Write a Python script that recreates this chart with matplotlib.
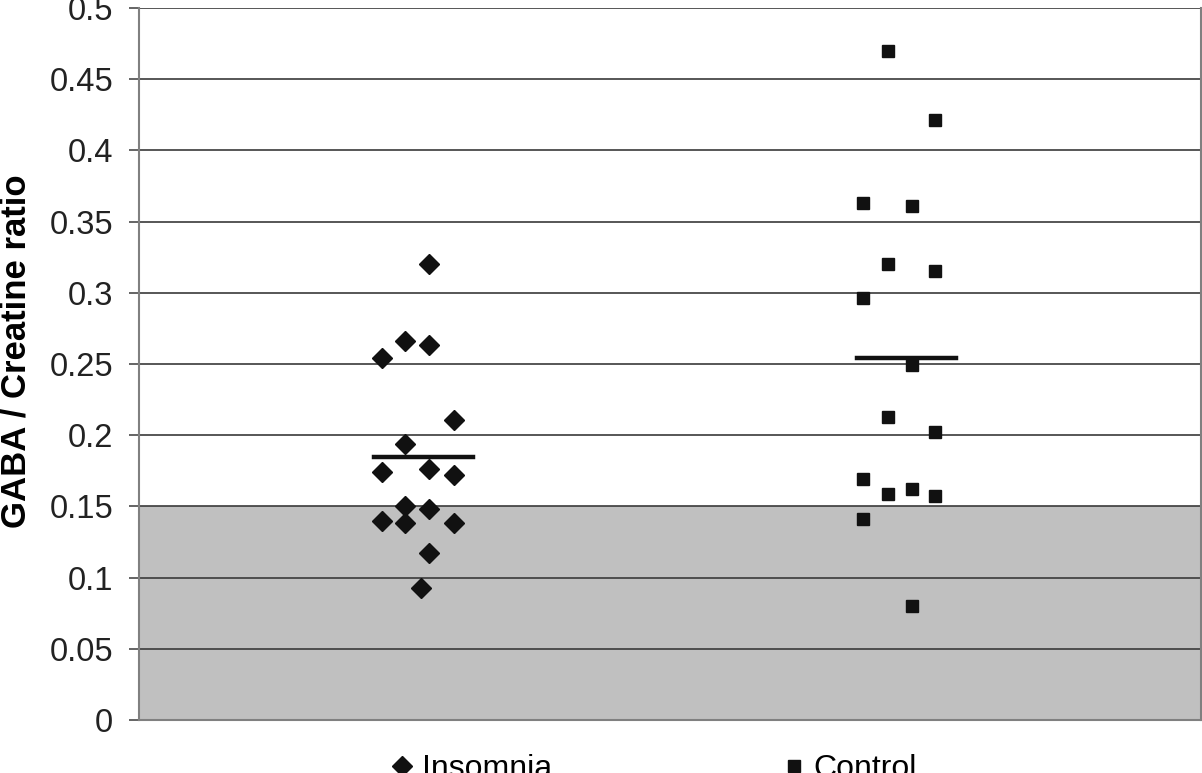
import matplotlib
matplotlib.use("Agg")
import matplotlib.pyplot as plt

plt.rcParams['font.family'] = ['Liberation Sans', 'DejaVu Sans']

# horizontal position of each point (axis runs 0..1), and the ratio values
insomnia_x = [0.2731, 0.2505, 0.2731, 0.2288, 0.2966, 0.2505, 0.2288, 0.2731,
              0.2966, 0.2505, 0.2731, 0.2288, 0.2505, 0.2966, 0.2731, 0.2655]
insomnia_y = [0.320, 0.266, 0.263, 0.254, 0.211, 0.194, 0.174, 0.176,
              0.172, 0.150, 0.148, 0.140, 0.138, 0.138, 0.117, 0.093]
control_x = [0.7053, 0.7495, 0.6817, 0.7279, 0.7053, 0.7495, 0.6817, 0.7279,
             0.7053, 0.7495, 0.6817, 0.7053, 0.7279, 0.7495, 0.6817, 0.7279]
control_y = [0.470, 0.421, 0.363, 0.361, 0.320, 0.315, 0.296, 0.249,
             0.213, 0.202, 0.169, 0.159, 0.162, 0.157, 0.141, 0.080]

insomnia_mean = 0.185
control_mean = 0.254
insomnia_mean_span = [0.2213, 0.3145]
control_mean_span = [0.6761, 0.7693]

shade_top = 0.15
yticks = [0, 0.05, 0.1, 0.15, 0.2, 0.25, 0.3, 0.35, 0.4, 0.45, 0.5]
yticklabels = ['0', '0.05', '0.1', '0.15', '0.2', '0.25', '0.3', '0.35', '0.4', '0.45', '0.5']

fig = plt.figure(figsize=(12.02, 7.73), dpi=100)
ax = fig.add_axes([0.1156, 0.0686, 0.8834, 0.9211])

ax.axhspan(0, shade_top, color='#c0c0c0', zorder=0, lw=0)
for t in yticks[1:]:
    ax.axhline(t, color='#3a3a3a', lw=1.2, zorder=1)

ax.plot(insomnia_x, insomnia_y, ls='none', marker='D', ms=10, color='#111111',
        mec='#111111', label='Insomnia', zorder=3)
ax.plot(control_x, control_y, ls='none', marker='s', ms=9, color='#111111',
        mec='#111111', label='Control', zorder=3)

ax.plot(insomnia_mean_span, [insomnia_mean] * 2, color='#111111', lw=3.2, zorder=4)
ax.plot(control_mean_span, [control_mean] * 2, color='#111111', lw=3.2, zorder=4)

ax.set_xlim(0, 1)
ax.set_ylim(0, 0.5)
ax.set_xticks([])
ax.set_yticks(yticks)
ax.set_yticklabels(yticklabels, fontsize=23.5, color='#222222')
ax.tick_params(axis='y', length=7.5, width=1.2, color='#4a4a4a', pad=11)

for side in ['left', 'bottom', 'right']:
    ax.spines[side].set_color('#808080')
    ax.spines[side].set_linewidth(1.5)
ax.spines['top'].set_visible(False)

ax.set_ylabel('GABA / Creatine ratio', fontsize=25, fontweight='bold')
ax.yaxis.set_label_coords(-0.1, 0.518)

leg = ax.legend(loc='upper left', bbox_to_anchor=(0.227, -0.03), ncol=2, frameon=False,
                fontsize=23, handlelength=0.6, handletextpad=0.3, columnspacing=7.3,
                markerscale=1.0, borderaxespad=0)

fig.savefig('out.png', dpi=100)
